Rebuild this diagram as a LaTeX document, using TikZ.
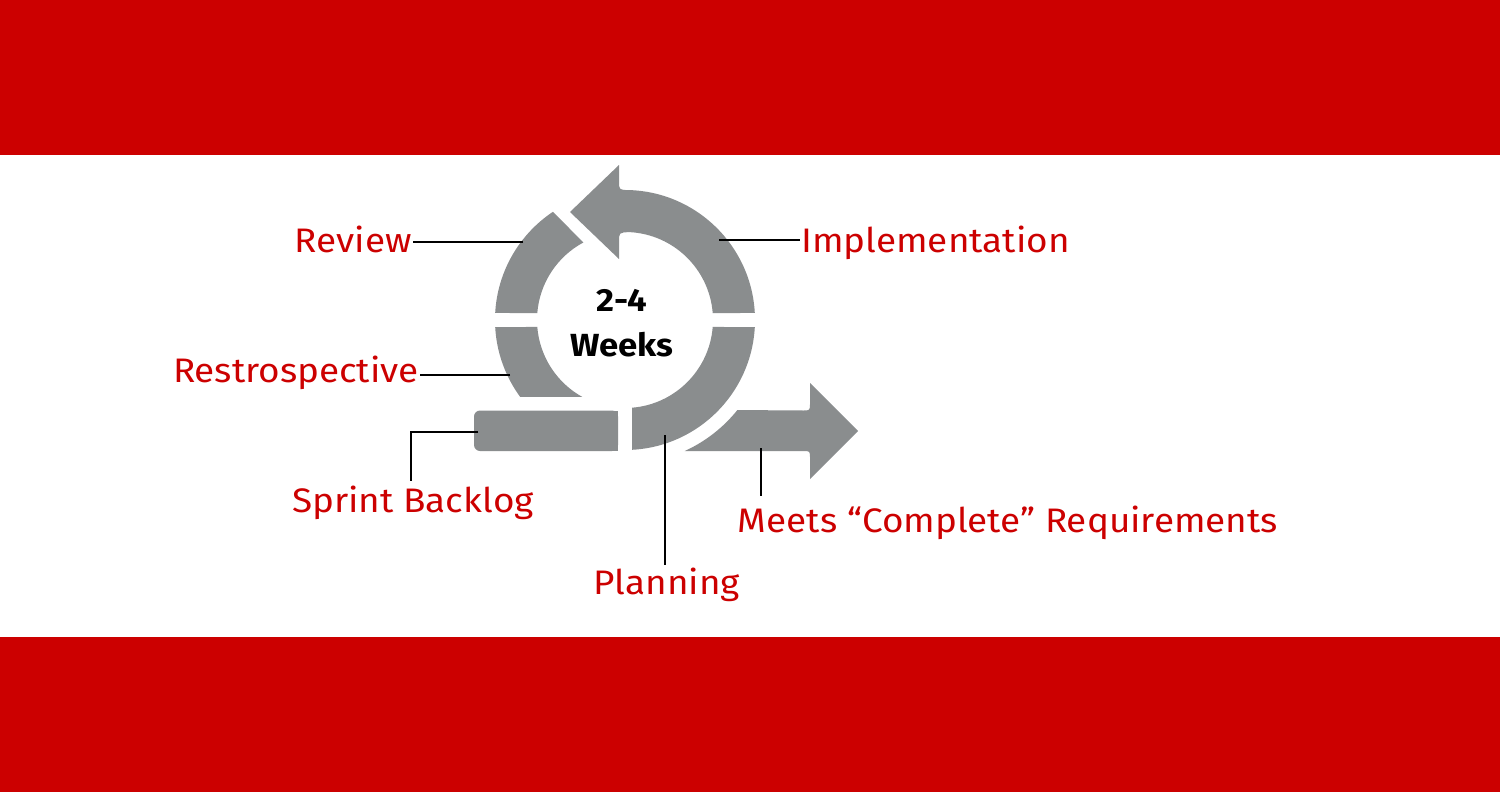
\documentclass[tikz,border=0pt]{standalone}
\usepackage{fontspec}
\setmainfont[FakeStretch=1.085]{Fira Sans}
\usetikzlibrary{calc}
\definecolor{bannerred}{HTML}{CC0000}
\definecolor{txtred}{HTML}{CC0000}
\definecolor{ringgray}{HTML}{8A8D8E}
\begin{document}
\begin{tikzpicture}[x=1pt,y=1pt,
  lbl/.style={text=txtred, font=\fontsize{34}{40}\selectfont, inner sep=0pt},
  leader/.style={draw=black, line width=2pt},
  piece/.style={fill=ringgray, draw=none}]
\useasboundingbox (0,0) rectangle (1500,-792);
\fill[white] (0,0) rectangle (1500,-792);
\fill[bannerred] (0,0) rectangle (1500,-155);
\fill[bannerred] (0,-637) rectangle (1500,-792);
\coordinate (C) at (625,-320);
% Implementation segment with arrow head
\fill[piece] ($(C)+(3.09:130)$) arc[start angle=3.09,end angle=88,radius=130]
  .. controls (619,-190) .. (619,-181) -- (619,-165) -- (570,-212) -- (619,-259) -- (619,-242)
  .. controls (619,-232.5) .. ($(C)+(87:88)$) arc[start angle=87,end angle=4.56,radius=88] -- cycle;
% Review segment
\fill[piece] ($(C)+(176.91:130)$) arc[start angle=176.91,end angle=123.7,radius=130]
  -- ($(C)+(118.2:88)$) arc[start angle=118.2,end angle=175.44,radius=88] -- cycle;
% Restrospective segment
\fill[piece] ($(C)+(183.09:130)$) arc[start angle=183.09,end angle=216.32,radius=130]
  -- ($(C)+(241.04:88)$) arc[start angle=241.04,end angle=184.56,radius=88] -- cycle;
% Planning segment
\fill[piece] ($(C)+(-3.09:130)$) arc[start angle=-3.09,end angle=-86.91,radius=130]
  -- ($(C)+(-85.44:88)$) arc[start angle=-85.44,end angle=-4.56,radius=88] -- cycle;
% Sprint backlog bar
\fill[piece, rounded corners=6pt] (474,-410.5) rectangle (618,-451);
\fill[piece] (560,-410.5) rectangle (618,-451);
% Exit arrow
\fill[piece] ($(C)+(-38.7:144)$) -- (803,-410.5) .. controls (810,-410.5) .. (810,-403)
  -- (810,-383) -- (858,-431) -- (810,-479) -- (810,-458) .. controls (810,-451) .. (803,-451)
  -- ($(C)+(-65.5:144)$) arc[start angle=-65.5,end angle=-38.7,radius=144] -- cycle;
% centre text
\node[font=\bfseries\fontsize{32}{45}\selectfont, align=center, inner sep=0pt] (weeks) at (622,-323) {2-4\\Weeks};
% labels
\node[lbl, anchor=base east] (review) at (412,-252) {Review};
\node[lbl, anchor=base west] (impl) at (801,-252) {Implementation};
\node[lbl, anchor=base east] (retro) at (419,-382) {Restrospective};
\node[lbl, anchor=base] (backlog) at (413,-512) {Sprint Backlog};
\node[lbl, anchor=base] (planning) at (667,-594) {Planning};
\node[lbl, anchor=base] (meets) at (1008,-532) {Meets “Complete” Requirements};
% leader lines
\coordinate (revpt) at (523,-242);
\coordinate (implpt) at (719,-240);
\coordinate (retropt) at (510,-375);
\coordinate (blpt) at (478,-432);
\coordinate (planpt) at (665,-435);
\coordinate (meetpt) at (761,-448);
\draw[leader] (revpt) -- ($(revpt -| review.east)+(1,0)$);
\draw[leader] (implpt) -- ($(implpt -| impl.west)+(-1,0)$);
\draw[leader] (retropt) -- ($(retropt -| retro.east)+(1,0)$);
\draw[leader] (blpt) -| ($(backlog.north)+(-2,4)$);
\draw[leader] (planpt) -- ($(planpt |- planning.north)+(0,2)$);
\draw[leader] (meetpt) -- ($(meetpt |- meets.north)+(0,9)$);
\end{tikzpicture}
\end{document}
